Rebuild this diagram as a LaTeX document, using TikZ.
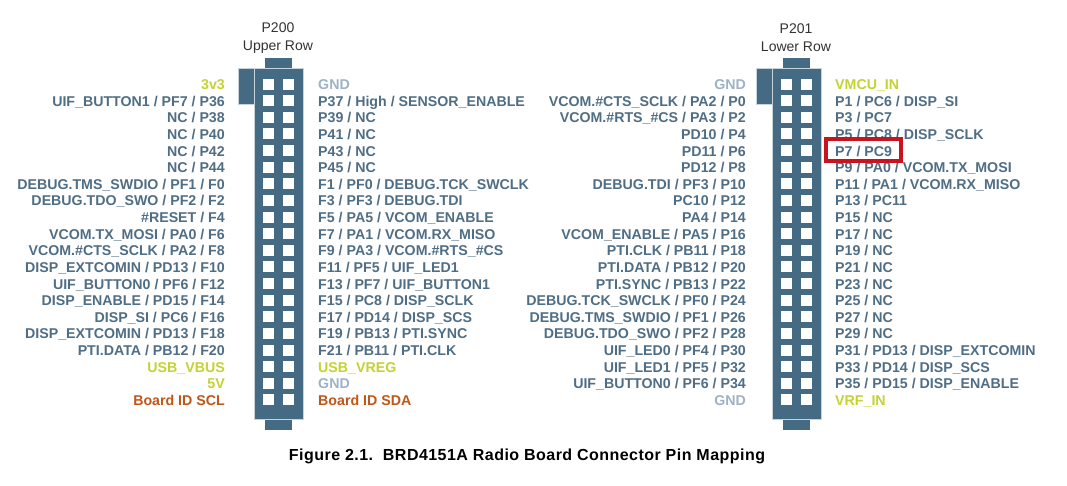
\documentclass[tikz,border=0pt]{standalone}
\usepackage{fontspec}
\setmainfont{Liberation Sans}
\definecolor{conn}{HTML}{446A84}
\definecolor{lab}{HTML}{4F6E86}
\definecolor{gnd}{HTML}{9DB2C6}
\definecolor{pwr}{HTML}{C4D232}
\definecolor{brd}{HTML}{C0561A}
\definecolor{hl}{HTML}{C8141E}
\tikzset{
  lbl/.style={font=\fontsize{14.2}{16}\selectfont\bfseries,text=lab,inner sep=0pt},
  lr/.style={lbl,anchor=base east},
  ll/.style={lbl,anchor=base west},
  gndt/.style={text=gnd},
  pwrt/.style={text=pwr},
  brdt/.style={text=brd},
  title/.style={font=\fontsize{14}{18}\selectfont,text=black!80,align=center,inner sep=0pt},
  caption/.style={font=\fontsize{16}{19}\selectfont\bfseries\addfontfeature{LetterSpace=2.9},text=black,inner sep=0pt},
  pin/.style={fill=white,draw=none,minimum size=11pt,inner sep=0pt},
  hlbox/.style={draw=hl,line width=4pt,fill=none,inner sep=0pt}
}
\newcommand{\connector}[2]{% x offset, name
  \begin{scope}[xshift=#1pt]
    \fill[conn] (265,58) rectangle (292,68);
    \draw[white!70!conn,line width=0.4pt,fill=conn] (238,68) rectangle (254,104);
    \fill[conn] (265,419) rectangle (292,430);
    \draw[white!70!conn,line width=0.4pt,fill=conn] (254,68) rectangle (303,419);
    \foreach \r in {0,...,19}{
      \node[pin] (#2a\r) at (268.5,84+16.63*\r) {};
      \node[pin] (#2b\r) at (288.5,84+16.63*\r) {};
    }
  \end{scope}}
% #1 style, #2 name, #3 x, #4 row, #5 text
\newcommand{\pinlabel}[5]{\node[#1] (#2) at (#3,89.5+16.63*#4) {#5};}
\begin{document}
\begin{tikzpicture}[x=1pt,y=-1pt]
\useasboundingbox[fill=white] (0,0) rectangle (1067,485);
\connector{0}{u}
\connector{518}{l}
\node[title] (tu) at (278,38) {P200\\Upper Row};
\node[title] (tl) at (796,38) {P201\\Lower Row};
% P200 left
\pinlabel{lr,pwrt}{a0}{225}{0}{3v3}
\pinlabel{lr}{a1}{225}{1}{UIF\_BUTTON1 / PF7 / P36}
\pinlabel{lr}{a2}{225}{2}{NC / P38}
\pinlabel{lr}{a3}{225}{3}{NC / P40}
\pinlabel{lr}{a4}{225}{4}{NC / P42}
\pinlabel{lr}{a5}{225}{5}{NC / P44}
\pinlabel{lr}{a6}{225}{6}{DEBUG.TMS\_SWDIO / PF1 / F0}
\pinlabel{lr}{a7}{225}{7}{DEBUG.TDO\_SWO / PF2 / F2}
\pinlabel{lr}{a8}{225}{8}{\#RESET / F4}
\pinlabel{lr}{a9}{225}{9}{VCOM.TX\_MOSI / PA0 / F6}
\pinlabel{lr}{a10}{225}{10}{VCOM.\#CTS\_SCLK / PA2 / F8}
\pinlabel{lr}{a11}{225}{11}{DISP\_EXTCOMIN / PD13 / F10}
\pinlabel{lr}{a12}{225}{12}{UIF\_BUTTON0 / PF6 / F12}
\pinlabel{lr}{a13}{225}{13}{DISP\_ENABLE / PD15 / F14}
\pinlabel{lr}{a14}{225}{14}{DISP\_SI / PC6 / F16}
\pinlabel{lr}{a15}{225}{15}{DISP\_EXTCOMIN / PD13 / F18}
\pinlabel{lr}{a16}{225}{16}{PTI.DATA / PB12 / F20}
\pinlabel{lr,pwrt}{a17}{225}{17}{USB\_VBUS}
\pinlabel{lr,pwrt}{a18}{225}{18}{5V}
\pinlabel{lr,brdt}{a19}{225}{19}{Board ID SCL}
% P200 right
\pinlabel{ll,gndt}{b0}{318}{0}{GND}
\pinlabel{ll}{b1}{318}{1}{P37 / High / SENSOR\_ENABLE}
\pinlabel{ll}{b2}{318}{2}{P39 / NC}
\pinlabel{ll}{b3}{318}{3}{P41 / NC}
\pinlabel{ll}{b4}{318}{4}{P43 / NC}
\pinlabel{ll}{b5}{318}{5}{P45 / NC}
\pinlabel{ll}{b6}{318}{6}{F1 / PF0 / DEBUG.TCK\_SWCLK}
\pinlabel{ll}{b7}{318}{7}{F3 / PF3 / DEBUG.TDI}
\pinlabel{ll}{b8}{318}{8}{F5 / PA5 / VCOM\_ENABLE}
\pinlabel{ll}{b9}{318}{9}{F7 / PA1 / VCOM.RX\_MISO}
\pinlabel{ll}{b10}{318}{10}{F9 / PA3 / VCOM.\#RTS\_\#CS}
\pinlabel{ll}{b11}{318}{11}{F11 / PF5 / UIF\_LED1}
\pinlabel{ll}{b12}{318}{12}{F13 / PF7 / UIF\_BUTTON1}
\pinlabel{ll}{b13}{318}{13}{F15 / PC8 / DISP\_SCLK}
\pinlabel{ll}{b14}{318}{14}{F17 / PD14 / DISP\_SCS}
\pinlabel{ll}{b15}{318}{15}{F19 / PB13 / PTI.SYNC}
\pinlabel{ll}{b16}{318}{16}{F21 / PB11 / PTI.CLK}
\pinlabel{ll,pwrt}{b17}{318}{17}{USB\_VREG}
\pinlabel{ll,gndt}{b18}{318}{18}{GND}
\pinlabel{ll,brdt}{b19}{318}{19}{Board ID SDA}
% P201 left
\pinlabel{lr,gndt}{c0}{746}{0}{GND}
\pinlabel{lr}{c1}{746}{1}{VCOM.\#CTS\_SCLK / PA2 / P0}
\pinlabel{lr}{c2}{746}{2}{VCOM.\#RTS\_\#CS / PA3 / P2}
\pinlabel{lr}{c3}{746}{3}{PD10 / P4}
\pinlabel{lr}{c4}{746}{4}{PD11 / P6}
\pinlabel{lr}{c5}{746}{5}{PD12 / P8}
\pinlabel{lr}{c6}{746}{6}{DEBUG.TDI / PF3 / P10}
\pinlabel{lr}{c7}{746}{7}{PC10 / P12}
\pinlabel{lr}{c8}{746}{8}{PA4 / P14}
\pinlabel{lr}{c9}{746}{9}{VCOM\_ENABLE / PA5 / P16}
\pinlabel{lr}{c10}{746}{10}{PTI.CLK / PB11 / P18}
\pinlabel{lr}{c11}{746}{11}{PTI.DATA / PB12 / P20}
\pinlabel{lr}{c12}{746}{12}{PTI.SYNC / PB13 / P22}
\pinlabel{lr}{c13}{746}{13}{DEBUG.TCK\_SWCLK / PF0 / P24}
\pinlabel{lr}{c14}{746}{14}{DEBUG.TMS\_SWDIO / PF1 / P26}
\pinlabel{lr}{c15}{746}{15}{DEBUG.TDO\_SWO / PF2 / P28}
\pinlabel{lr}{c16}{746}{16}{UIF\_LED0 / PF4 / P30}
\pinlabel{lr}{c17}{746}{17}{UIF\_LED1 / PF5 / P32}
\pinlabel{lr}{c18}{746}{18}{UIF\_BUTTON0 / PF6 / P34}
\pinlabel{lr,gndt}{c19}{746}{19}{GND}
% P201 right
\pinlabel{ll,pwrt}{d0}{835}{0}{VMCU\_IN}
\pinlabel{ll}{d1}{835}{1}{P1 / PC6 / DISP\_SI}
\pinlabel{ll}{d2}{835}{2}{P3 / PC7}
\pinlabel{ll}{d3}{835}{3}{P5 / PC8 / DISP\_SCLK}
\pinlabel{ll}{d4}{835}{4}{P7 / PC9}
\pinlabel{ll}{d5}{835}{5}{P9 / PA0 / VCOM.TX\_MOSI}
\pinlabel{ll}{d6}{835}{6}{P11 / PA1 / VCOM.RX\_MISO}
\pinlabel{ll}{d7}{835}{7}{P13 / PC11}
\pinlabel{ll}{d8}{835}{8}{P15 / NC}
\pinlabel{ll}{d9}{835}{9}{P17 / NC}
\pinlabel{ll}{d10}{835}{10}{P19 / NC}
\pinlabel{ll}{d11}{835}{11}{P21 / NC}
\pinlabel{ll}{d12}{835}{12}{P23 / NC}
\pinlabel{ll}{d13}{835}{13}{P25 / NC}
\pinlabel{ll}{d14}{835}{14}{P27 / NC}
\pinlabel{ll}{d15}{835}{15}{P29 / NC}
\pinlabel{ll}{d16}{835}{16}{P31 / PD13 / DISP\_EXTCOMIN}
\pinlabel{ll}{d17}{835}{17}{P33 / PD14 / DISP\_SCS}
\pinlabel{ll}{d18}{835}{18}{P35 / PD15 / DISP\_ENABLE}
\pinlabel{ll,pwrt}{d19}{835}{19}{VRF\_IN}
% highlight
\node[hlbox,minimum width=75pt,minimum height=22pt] (hilite) at (863.8,150.3) {};
\node[caption] (cap) at (527,456) {Figure 2.1.\ \ BRD4151A Radio Board Connector Pin Mapping};
\end{tikzpicture}
\end{document}
